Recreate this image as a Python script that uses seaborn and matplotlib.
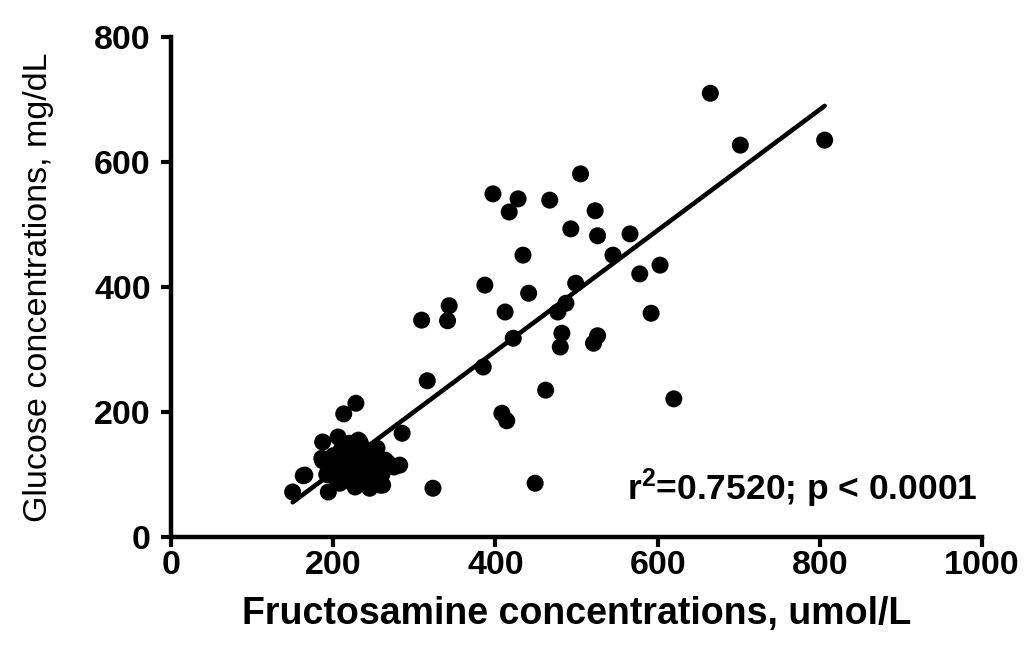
import matplotlib
matplotlib.use("Agg")
import matplotlib.pyplot as plt
import seaborn as sns
import pandas as pd
import numpy as np

# Fructosamine (umol/L) vs Glucose (mg/dL)
fructosamine = [
    505, 397, 428, 417, 467, 523, 493, 526, 566, 545, 578, 592, 434, 387, 441,
    412, 343, 341, 309, 499, 487, 477, 482, 480, 526, 521, 422, 385, 316, 462,
    408, 414, 603, 620, 665, 702, 806, 323, 449, 285, 282,
    228, 213, 150, 163, 187, 187, 206, 231, 254, 268, 261, 245, 227, 194, 208,
    192, 200, 215, 225, 235, 245, 255, 220, 240, 210, 230, 250, 200, 220, 240,
    260, 275, 233, 258, 186, 165, 264, 204, 238, 218, 248,
    215, 230, 240, 205, 225, 235, 220, 245, 210, 225,
]
glucose = [
    581, 549, 541, 520, 539, 522, 493, 482, 485, 451, 421, 358, 451, 403, 390,
    360, 370, 346, 347, 406, 374, 360, 326, 304, 322, 310, 318, 272, 250, 235,
    198, 186, 435, 221, 710, 627, 635, 78, 86, 166, 115,
    214, 197, 72, 98, 152, 122, 160, 155, 142, 118, 83, 78, 80, 72, 86,
    100, 110, 125, 140, 120, 110, 125, 100, 95, 140, 105, 95, 130, 150, 140,
    100, 112, 152, 83, 126, 99, 123, 92, 128, 115, 132,
    105, 95, 110, 100, 115, 100, 90, 120, 115, 100,
]

x_ticks = [0, 200, 400, 600, 800, 1000]
y_ticks = [0, 200, 400, 600, 800]

df = pd.DataFrame({"fructosamine": fructosamine, "glucose": glucose})

sns.set_style("ticks")
plt.rcParams["font.family"] = ["Liberation Sans", "DejaVu Sans"]
plt.rcParams["mathtext.fontset"] = "custom"
plt.rcParams["mathtext.rm"] = "Liberation Sans:bold"
plt.rcParams["mathtext.it"] = "Liberation Sans:bold"
plt.rcParams["mathtext.bf"] = "Liberation Sans:bold"
for key in ["text.color", "axes.labelcolor", "xtick.color", "ytick.color", "axes.edgecolor"]:
    plt.rcParams[key] = "black"

fig = plt.figure(figsize=(10.24, 6.59), dpi=100)
ax = fig.add_axes([171 / 1024, 1 - 537 / 659, (982 - 171) / 1024, 500 / 659])

sns.regplot(
    data=df, x="fructosamine", y="glucose", ax=ax, ci=None,
    scatter_kws=dict(s=150, color="black", edgecolor="none", alpha=1, clip_on=False, zorder=3),
    line_kws=dict(color="black", lw=3.3, zorder=4),
)

ax.set_xlim(0, 1000)
ax.set_ylim(0, 800)
ax.set_xticks(x_ticks)
ax.set_yticks(y_ticks)
ax.set_xticklabels([str(t) for t in x_ticks], fontsize=24.5, fontweight="bold", color="black")
ax.set_yticklabels([str(t) for t in y_ticks], fontsize=24.5, fontweight="bold", color="black")
ax.tick_params(axis="both", length=7.5, width=3, color="black", labelcolor="black")
ax.tick_params(axis="x", pad=2)
ax.tick_params(axis="y", pad=7)
for side in ["left", "bottom"]:
    ax.spines[side].set_linewidth(3.2)
    ax.spines[side].set_color("black")
sns.despine(ax=ax)

ax.set_xlabel("Fructosamine concentrations, umol/L", fontsize=27, fontweight="bold",
              labelpad=11, color="black")
ax.set_ylabel("Glucose concentrations, mg/dL", fontsize=24.5, fontweight="normal",
              labelpad=29, color="black")

ax.text(0.995, 0.074, r"$\mathrm{r}^{2}$=0.7520; p < 0.0001", transform=ax.transAxes,
        ha="right", va="baseline", fontsize=25.5, fontweight="bold", color="black")

fig.savefig("out.png", dpi=100)
